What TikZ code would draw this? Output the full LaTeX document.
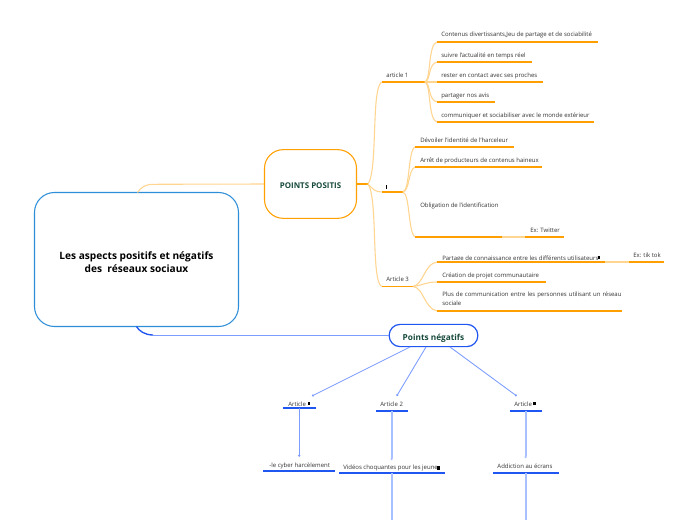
\documentclass[tikz,border=0pt]{standalone}
\usepackage{fontspec}
\usetikzlibrary{arrows.meta}
\setmainfont{Open Sans}
\definecolor{orangeln}{HTML}{FFA000}
\definecolor{orangelt}{HTML}{FFD590}
\definecolor{blueln}{HTML}{1F55F0}
\definecolor{bluelt}{HTML}{A8C0FF}
\definecolor{bluemid}{HTML}{7C9CFF}
\definecolor{centralc}{HTML}{2E8FD8}
\definecolor{titlegreen}{HTML}{174A3C}
\definecolor{leaftext}{HTML}{333333}
\tikzset{
  leaftxt/.style={font=\fontsize{4.5}{6.6}\selectfont,text=leaftext,inner sep=0pt,anchor=west,align=left,yshift=-.4pt},
  ctrtxt/.style={font=\fontsize{4.5}{6.6}\selectfont,text=leaftext,inner sep=0pt,anchor=center,yshift=-.4pt},
  ubar/.style={line width=1pt,color=orangeln},
  bbar/.style={line width=1pt,color=blueln},
  oconn/.style={line width=.8pt,color=orangelt},
  bconn/.style={line width=.65pt,color=bluemid},
  bthick/.style={line width=1.2pt,color=bluelt},
  tipc/.style={-{Circle[length=1.6pt]}},
  blot/.style={inner sep=0pt,fill=black,minimum width=2.2pt,minimum height=2.4pt}
}
\begin{document}
\begin{tikzpicture}[x=0.75pt,y=-0.75pt]
\useasboundingbox (0,0) rectangle (697,520);
\fill[white] (0,0) rectangle (697,520);
% main nodes
\node[draw=centralc,line width=.8pt,rounded corners=15pt,minimum width=153pt,minimum height=100.5pt,inner sep=0pt,font=\fontsize{7.6}{10.3}\selectfont\bfseries] (central) at (136.5,259.5) {\begin{tabular}{@{}c@{}}\rule{0pt}{13pt}Les aspects positifs et négatifs\\des\ \ réseaux sociaux\end{tabular}};
\node[draw=orangeln,line width=.8pt,rounded corners=14pt,minimum width=69pt,minimum height=51.5pt,inner sep=0pt,text=titlegreen,font=\fontsize{5.95}{8}\selectfont\bfseries] (pos) at (310.5,184) {\rule{0pt}{7pt}POINTS POSITIS};
\node[draw=blueln,line width=.9pt,rounded corners=8.2pt,minimum width=66.5pt,minimum height=16.7pt,inner sep=0pt,text=titlegreen,font=\fontsize{6.2}{8}\selectfont\bfseries] (neg) at (433.5,335.5) {\rule{0pt}{8.5pt}Points négatifs};
% helper coordinates
\coordinate (fork) at (368,184);
\coordinate (a1s) at (381.5,82); \coordinate (a1e) at (425,82);
\coordinate (a2s) at (381.5,192); \coordinate (a2e) at (403,192);
\coordinate (a3s) at (381.5,286.5); \coordinate (a3e) at (413,286.5);
\coordinate (centtop) at (137.5,192.5); \coordinate (centbot) at (136.5,326.5);
% central connectors
\draw[oconn] (centtop) .. controls (141,187) and (146,184.3) .. (153,184.3) -- (pos.west |- fork);
\draw[line width=1.2pt,color=orangeln] (pos.east |- fork) -- (fork);
\coordinate (bmid) at (153,335);
\draw[line width=1pt,color=blueln] (centbot) .. controls (139,331) and (145,335) .. (bmid);
\draw[bconn] (bmid) -- (neg.west |- bmid);
% second level
\draw[oconn] (fork) .. controls (378,170) and (371,90) .. (a1s);
\draw[oconn] (fork) .. controls (373,189) and (375,192) .. (a2s);
\draw[oconn] (fork) .. controls (378,198) and (371,280) .. (a3s);
\draw[ubar] (a1s) -- (a1e);
\draw[ubar] (a2s) -- (a2e);
\draw[ubar] (a3s) -- (a3e);
\node[ctrtxt,anchor=west] (l1) at (386,75) {article 1};
\node[inner sep=0pt,fill=black,minimum width=.8pt,minimum height=3.2pt] (l2) at (386.5,187) {};
\node[ctrtxt,anchor=west] (l3) at (386,278.7) {Article 3};
% article 1 leaves
\coordinate (b1) at (437,42); \coordinate (b2) at (437,62); \coordinate (b3) at (437,82); \coordinate (b4) at (437,102); \coordinate (b5) at (437,122);
\draw[oconn] (a1e) .. controls (431,80) and (428,44) .. (b1);
\draw[oconn] (a1e) .. controls (431,80) and (428,64) .. (b2);
\draw[oconn] (a1e) -- (b3);
\draw[oconn] (a1e) .. controls (431,84) and (428,100) .. (b4);
\draw[oconn] (a1e) .. controls (431,84) and (428,120) .. (b5);
\draw[ubar] (b1) -- (598,42);
\draw[ubar] (b2) -- (532,62);
\draw[ubar] (b3) -- (543,82);
\draw[ubar] (b4) -- (495,102);
\draw[ubar] (b5) -- (594,122);
\node[leaftxt] (t1) at (441,34.7) {Contenus divertissants,Jeu de partage et de sociabilité};
\node[leaftxt] (t2) at (441,55) {suivre l'actualité en temps réel};
\node[leaftxt] (t3) at (441,75) {rester en contact avec ses proches};
\node[leaftxt] (t4) at (441,95) {partager nos avis};
\node[leaftxt] (t5) at (441,115) {communiquer et sociabiliser avec le monde extérieur};
% article 2 leaves
\coordinate (c1) at (415,147); \coordinate (c2) at (415,167); \coordinate (c3) at (415,237);
\coordinate (c3e) at (502,237); \coordinate (c4) at (525,237);
\draw[oconn] (a2e) .. controls (410,190) and (408,150) .. (c1);
\draw[oconn] (a2e) .. controls (410,190) and (408,170) .. (c2);
\draw[oconn] (a2e) .. controls (410,194) and (408,232) .. (c3);
\draw[ubar] (c1) -- (514,147);
\draw[ubar] (c2) -- (542,167);
\draw[ubar] (c3) -- (c3e);
\draw[oconn] (c3e) -- (c4);
\draw[ubar] (c4) -- (564,237);
\node[leaftxt] (u1) at (420,139.7) {Dévoiler l'identité de l'harceleur};
\node[leaftxt] (u2) at (420,160) {Arrêt de producteurs de contenus haineux};
\node[leaftxt] (u3) at (420,205.7) {Obligation de l'identification};
\node[leaftxt] (u4) at (530,229.7) {Ex: Twitter};
% article 3 leaves
\coordinate (d1) at (437,262); \coordinate (d2) at (437,282); \coordinate (d3) at (437,311);
\coordinate (d1e) at (605,262); \coordinate (d4) at (629,262);
\draw[oconn] (a3e) .. controls (424,284) and (424,264) .. (d1);
\draw[oconn] (a3e) .. controls (424,285) and (426,282) .. (d2);
\draw[oconn] (a3e) .. controls (424,288) and (424,308) .. (d3);
\draw[ubar] (d1) -- (d1e);
\draw[oconn] (d1e) -- (d4);
\draw[ubar] (d4) -- (664,262);
\draw[ubar] (d2) -- (546,282);
\draw[ubar] (d3) -- (621.7,311);
\begin{scope}
\clip (430,254) rectangle (610,260);
\node[leaftxt] (v1) at (442,258) {Partage de connaissance entre les différents utilisateurs};
\end{scope}
\node[blot] (v1b) at (599,257.5) {};
\node[leaftxt] (v2) at (442,275) {Création de projet communautaire};
\node[leaftxt,text width=140pt,anchor=north west] (v3) at (442,291) {Plus de communication entre les personnes utilisant un réseau sociale};
\node[leaftxt] (v4) at (633,254.7) {Ex: tik tok};
% negative branch
\coordinate (n1) at (312,396); \coordinate (n2) at (396.7,396); \coordinate (n3) at (516.7,396);
\coordinate (s1) at (410,347); \coordinate (s2) at (426,347); \coordinate (s3) at (450,347);
\draw[bconn,tipc] (s1) -- (n1);
\draw[bconn,tipc] (s2) -- (n2);
\draw[bconn,tipc] (s3) -- (n3);
\coordinate (e1) at (299.3,408); \coordinate (e2) at (391.7,411); \coordinate (e3) at (525.7,411);
\coordinate (f1) at (299.3,456.7); \coordinate (f2) at (391.7,460); \coordinate (f3) at (525.7,458);
\coordinate (g2) at (391.7,473); \coordinate (g3) at (525.7,473);
\coordinate (h2) at (391.7,520); \coordinate (h3) at (525.7,520);
\draw[bbar] (283,408) -- (315.7,408);
\draw[bbar] (376,411) -- (407.7,411);
\draw[bbar] (510,411) -- (542,411);
\node[ctrtxt,anchor=west] (w1) at (288,403.5) {Article};
\node[blot] (w1b) at (309,403.5) {};
\node[ctrtxt] (w2) at (391.7,403.5) {Article 2};
\node[ctrtxt,anchor=west] (w3) at (514,403.5) {Article};
\node[blot] (w3b) at (534.5,403.5) {};
\draw[bconn,tipc] (e1) -- (f1);
\draw[bthick,tipc] (e2) -- (f2);
\draw[bthick,tipc] (e3) -- (f3);
\draw[bbar] (263,471) -- (335,471);
\draw[bbar] (339,473) -- (445,473);
\draw[bbar] (493,473) -- (559,473);
\node[ctrtxt] (x1) at (299.7,465) {-le cyber harcèlement};
\node[ctrtxt,anchor=west] (x2) at (343,467.5) {Vidéos choquantes pour les jeune};
\node[blot] (x2b) at (438.5,468) {};
\node[ctrtxt] (x3) at (525,466) {Addiction au écrans};
\draw[bthick] (g2) -- (h2);
\draw[bthick] (g3) -- (h3);
\end{tikzpicture}
\end{document}
